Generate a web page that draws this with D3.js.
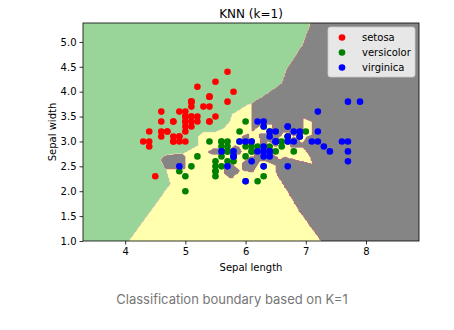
<!DOCTYPE html>
<html>
<head>
<meta charset="utf-8">
<script src="https://cdn.jsdelivr.net/npm/d3@7"></script>
<style>
  body { margin: 0; background: #fff; }
  svg { display: block; }
</style>
</head>
<body>
<div id="chart"></div>
<script>
// iris data: [sepal length, sepal width]
let species = ["setosa", "versicolor", "virginica"]
let pointColors = ["#ff0000", "#008000", "#0000ff"]

let setosa = [
  [5.1,3.5],[4.9,3.0],[4.7,3.2],[4.6,3.1],[5.0,3.6],[5.4,3.9],[4.6,3.4],[5.0,3.4],[4.4,2.9],[4.9,3.1],
  [5.4,3.7],[4.8,3.4],[4.8,3.0],[4.3,3.0],[5.8,4.0],[5.7,4.4],[5.4,3.9],[5.1,3.5],[5.7,3.8],[5.1,3.8],
  [5.4,3.4],[5.1,3.7],[4.6,3.6],[5.1,3.3],[4.8,3.4],[5.0,3.0],[5.0,3.4],[5.2,3.5],[5.2,3.4],[4.7,3.2],
  [4.8,3.1],[5.4,3.4],[5.2,4.1],[5.5,4.2],[4.9,3.1],[5.0,3.2],[5.5,3.5],[4.9,3.6],[4.4,3.0],[5.1,3.4],
  [5.0,3.5],[4.5,2.3],[4.4,3.2],[5.0,3.5],[5.1,3.8],[4.8,3.0],[5.1,3.8],[4.6,3.2],[5.3,3.7],[5.0,3.3]
]
let versicolor = [
  [7.0,3.2],[6.4,3.2],[6.9,3.1],[5.5,2.3],[6.5,2.8],[5.7,2.8],[6.3,3.3],[4.9,2.4],[6.6,2.9],[5.2,2.7],
  [5.0,2.0],[5.9,3.0],[6.0,2.2],[6.1,2.9],[5.6,2.9],[6.7,3.1],[5.6,3.0],[5.8,2.7],[6.2,2.2],[5.6,2.5],
  [5.9,3.2],[6.1,2.8],[6.3,2.5],[6.1,2.8],[6.4,2.9],[6.6,3.0],[6.8,2.8],[6.7,3.0],[6.0,2.9],[5.7,2.6],
  [5.5,2.4],[5.5,2.4],[5.8,2.7],[6.0,2.7],[5.4,3.0],[6.0,3.4],[6.7,3.1],[6.3,2.3],[5.6,3.0],[5.5,2.5],
  [5.5,2.6],[6.1,3.0],[5.8,2.6],[5.0,2.3],[5.6,2.7],[5.7,3.0],[5.7,2.9],[6.2,2.9],[5.1,2.5],[5.7,2.8]
]
let virginica = [
  [6.3,3.3],[5.8,2.7],[7.1,3.0],[6.3,2.9],[6.5,3.0],[7.6,3.0],[4.9,2.5],[7.3,2.9],[6.7,2.5],[7.2,3.6],
  [6.5,3.2],[6.4,2.7],[6.8,3.0],[5.7,2.5],[5.8,2.8],[6.4,3.2],[6.5,3.0],[7.7,3.8],[7.7,2.6],[6.0,2.2],
  [6.9,3.2],[5.6,2.8],[7.7,2.8],[6.3,2.7],[6.7,3.3],[7.2,3.2],[6.2,2.8],[6.1,3.0],[6.4,2.8],[7.2,3.0],
  [7.4,2.8],[7.9,3.8],[6.4,2.8],[6.3,2.8],[6.1,2.6],[7.7,3.0],[6.3,3.4],[6.4,3.1],[6.0,3.0],[6.9,3.1],
  [6.7,3.1],[6.9,3.1],[5.8,2.7],[6.8,3.2],[6.7,3.3],[6.7,3.0],[6.3,2.5],[6.5,3.0],[6.2,3.4],[5.9,3.0]
]

let xTicks = [4, 5, 6, 7, 8]
let yTicks = [1.0, 1.5, 2.0, 2.5, 3.0, 3.5, 4.0, 4.5, 5.0]

// contourf levels and the Accent colormap (alpha 0.8 on white)
let levels = [0, 0.25, 0.5, 0.75, 1.0, 1.25, 1.5, 1.75, 2.0]
let bandColors = ["#99d499", "#cbbedd", "#fdcd9e", "#ffffad", "#6089c0", "#f33599", "#cc7c45", "#858585"]

let K = 1
let h = 0.02

let width = 454
let height = 330
let margin = { top: 23, right: 35, bottom: 89, left: 83 }
let innerW = width - margin.left - margin.right
let innerH = height - margin.top - margin.bottom

//////////////////////////////////////////////////////////////////////
// KNN GRID
//////////////////////////////////////////////////////////////////////
let train = []
;[setosa, versicolor, virginica].forEach((arr, c) => {
  arr.forEach((p) => train.push({ x: p[0], y: p[1], c: c }))
})

let xMin = d3.min(train, (d) => d.x) - 1
let xMax = d3.max(train, (d) => d.x) + 1
let yMin = d3.min(train, (d) => d.y) - 1
let yMax = d3.max(train, (d) => d.y) + 1

let nx = Math.ceil((xMax - xMin) / h - 1e-9)
let ny = Math.ceil((yMax - yMin) / h - 1e-9)

let classify = (gx, gy) => {
  let best = Infinity
  let cls = 0
  for (const d of train) {
    let dx = d.x - gx,
      dy = d.y - gy
    let dist = dx * dx + dy * dy
    if (dist < best) {
      best = dist
      cls = d.c
    }
  }
  return cls
}

let grid = new Array(nx * ny)
for (let j = 0; j < ny; j++) {
  let gy = yMin + j * h
  for (let i = 0; i < nx; i++) {
    grid[j * nx + i] = classify(xMin + i * h, gy)
  }
}

//////////////////////////////////////////////////////////////////////
// DRAW
//////////////////////////////////////////////////////////////////////
let x = d3.scaleLinear().domain([xMin, xMin + (nx - 1) * h]).range([0, innerW])
let y = d3.scaleLinear().domain([yMin, yMin + (ny - 1) * h]).range([innerH, 0])

const svg = d3
  .select("#chart")
  .append("svg")
  .attr("width", width)
  .attr("height", height)
  .style("font-family", "DejaVu Sans, sans-serif")

svg.append("defs")
  .append("clipPath")
  .attr("id", "clip")
  .append("rect")
  .attr("width", innerW)
  .attr("height", innerH)

const g = svg.append("g").attr("transform", `translate(${margin.left},${margin.top})`)

// contour bands: value above level_i gets colour i (value 1.0 must stay in band 3)
let thresholds = levels.slice(1, -1).map((l) => (l === 1.0 ? 1.0001 : l))
let contours = d3.contours().size([nx, ny]).thresholds(thresholds)(grid)

let proj = d3.geoTransform({
  point: function (px, py) {
    this.stream.point(x(xMin + (px - 0.5) * h), y(yMin + (py - 0.5) * h))
  },
})
let path = d3.geoPath(proj)

const bg = g.append("g").attr("clip-path", "url(#clip)")
bg.append("rect").attr("width", innerW).attr("height", innerH).attr("fill", bandColors[0])
bg.selectAll("path")
  .data(contours)
  .join("path")
  .attr("d", path)
  .attr("fill", (d, i) => bandColors[i + 1])

// points
let pts = []
;[setosa, versicolor, virginica].forEach((arr, c) => arr.forEach((p) => pts.push({ x: p[0], y: p[1], c: c })))
g.append("g")
  .selectAll("circle")
  .data(pts)
  .join("circle")
  .attr("cx", (d) => x(d.x))
  .attr("cy", (d) => y(d.y))
  .attr("r", 3.3)
  .attr("fill", (d) => pointColors[d.c])

// axes
const xAxis = g.append("g")
  .attr("transform", `translate(0,${innerH})`)
  .call(d3.axisBottom(x).tickValues(xTicks).tickSize(3.5).tickPadding(3).tickFormat(d3.format("d")))
const yAxis = g.append("g")
  .call(d3.axisLeft(y).tickValues(yTicks).tickSize(3.5).tickPadding(3).tickFormat(d3.format(".1f")))
;[xAxis, yAxis].forEach((a) => {
  a.select(".domain").remove()
  a.selectAll("text").attr("font-size", 10).attr("font-family", "DejaVu Sans, sans-serif").attr("fill", "#000")
  a.selectAll("line").attr("stroke", "#000").attr("stroke-width", 0.8)
})

g.append("rect")
  .attr("width", innerW)
  .attr("height", innerH)
  .attr("fill", "none")
  .attr("stroke", "#000")
  .attr("stroke-width", 0.8)

// labels
g.append("text")
  .attr("x", innerW / 2)
  .attr("y", innerH + 30)
  .attr("text-anchor", "middle")
  .attr("font-size", 10)
  .text("Sepal length")
g.append("text")
  .attr("transform", `translate(${-27},${innerH / 2}) rotate(-90)`)
  .attr("text-anchor", "middle")
  .attr("font-size", 10)
  .text("Sepal width")
g.append("text")
  .attr("x", innerW / 2)
  .attr("y", -5)
  .attr("text-anchor", "middle")
  .attr("font-size", 12)
  .text(`KNN (k=${K})`)

// legend
const legend = g.append("g").attr("transform", `translate(${innerW - 91},4)`)
legend.append("rect")
  .attr("width", 87)
  .attr("height", 50)
  .attr("rx", 2.5)
  .attr("fill", "#fff")
  .attr("fill-opacity", 0.8)
  .attr("stroke", "#cccccc")
  .attr("stroke-width", 0.8)
species.forEach((s, i) => {
  let row = legend.append("g").attr("transform", `translate(0,${10.5 + i * 15})`)
  row.append("circle").attr("cx", 14).attr("cy", 0).attr("r", 3.3).attr("fill", pointColors[i])
  row.append("text").attr("x", 34).attr("y", 3.5).attr("font-size", 10).text(s)
})

// caption
svg.append("text")
  .attr("x", 232)
  .attr("y", 304)
  .attr("text-anchor", "middle")
  .attr("font-family", "Inter, sans-serif")
  .attr("font-size", 13)
  .attr("fill", "#767676")
  .text(`Classification boundary based on K=${K}`)
</script>
</body>
</html>
